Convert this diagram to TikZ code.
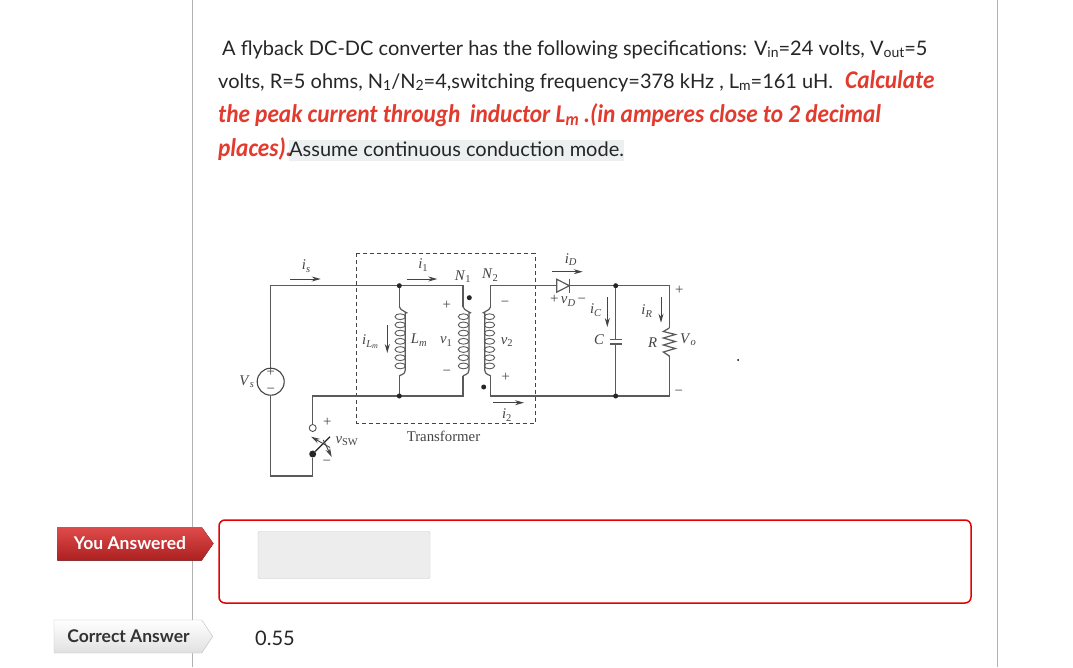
\documentclass[tikz,border=0pt]{standalone}
\usepackage{fontspec}
\usepackage{xcolor}
\usetikzlibrary{calc,arrows.meta}
\setmainfont{Lato}
\newfontfamily\redfont[FakeStretch=0.913]{Carlito}
\newfontfamily\circfont{Liberation Serif}
\definecolor{redtext}{HTML}{E23B2E}
\definecolor{wiregray}{HTML}{5A5A5A}
\definecolor{labgray}{HTML}{444444}
\definecolor{hilite}{HTML}{ECF0F1}
\definecolor{badgetop}{HTML}{E04B4B}
\definecolor{badgebot}{HTML}{AC2020}
\newcommand{\ssub}[1]{\raisebox{-0.28ex}{\fontsize{14}{14}\selectfont #1}}
\newcommand{\csub}[2]{\textit{#1}\raisebox{-0.35ex}{\fontsize{10.5}{10.5}\selectfont\textit{#2}}}
\newcommand{\nsub}[2]{\textit{#1}\raisebox{-0.35ex}{\fontsize{10.5}{10.5}\selectfont #2}}
\tikzset{
  wire/.style={wiregray, line width=1.2pt},
  curarrow/.style={-{Stealth[length=9pt,width=5pt]}, labgray, line width=0.9pt},
  lab/.style={inner sep=0pt, text=labgray, font=\circfont\fontsize{14.8}{16}\selectfont},
  qline/.style={anchor=base west, inner sep=0pt, text=black!85, font=\fontsize{20}{24}\selectfont},
  redline/.style={anchor=base west, inner sep=0pt, text=redtext, font=\redfont\bfseries\itshape\fontsize{25.5}{30}\selectfont},
  jdot/.style={circle, fill=black!85, inner sep=0pt, minimum size=5pt},
  badgetxt/.style={inner sep=0pt, font=\bfseries\fontsize{17.5}{20}\selectfont}
}
\begin{document}
\begin{tikzpicture}[x=1pt, y=-1pt]
  \useasboundingbox (0,0) rectangle (1073,667);
  \fill[white] (0,0) rectangle (1073,667);

  % page rules
  \draw[black!30] (192.5,0) -- (192.5,667);
  \draw[black!30] (997.5,0) -- (997.5,667);

  % question text
  \node[qline] (line1) at (222,55) {A flyback DC-DC converter has the following specifications: V\ssub{in}=24 volts, V\ssub{out}=5};
  \node[qline] (line2) at (218,88) {volts, R=5 ohms, N\ssub{1}/N\ssub{2}=4,switching frequency=378 kHz , L\ssub{m}=161 uH.};
  \node[redline] (calc) at (845,88) {Calculate};
  \node[redline] (line3) at (218,122) {the peak current through\, inductor L\raisebox{-0.3ex}{\fontsize{18}{18}\selectfont m} .(in amperes close to 2 decimal};
  \fill[hilite] (289,140) rectangle (624,160.5);
  \node[redline] (line4) at (218,156) {places).};
  \node[qline] (assume) at (289,156) {Assume continuous conduction mode.};

  % transformer box
  \draw[dash pattern=on 4pt off 3pt, labgray, line width=0.9pt] (356.7,253.3) rectangle (535,423.3);

  % wiring points
  \foreach \n/\x/\y in {tl/270.7/285.7, bl/270.7/476, br/312.7/476, sw/312.7/396, ta/399.3/285.7, ba/399.3/396,
      pt/463/285.7, pb/463/396, st/490.7/285.7, sb/490.7/396, an/556.7/285.7, ca/569.3/285.7,
      ct/615.7/285.7, cb/615.7/396, cu/615.7/339.3, cl/615.7/344, rt/669.3/285.7, rb/669.3/396,
      ru/669.3/328, rl/669.3/357, lt/399.3/306.7, lb/399.3/376, pu/463/306.7, pl/463/376,
      su/490.7/306.7, sl/490.7/376}
    \coordinate (\n) at (\x,\y);

  % source and switch terminals
  \node[circle, draw=labgray, line width=1.1pt, minimum size=27pt, inner sep=0pt] (vs) at (270.7,381.7) {};
  \node[circle, draw=labgray, fill=white, line width=0.8pt, minimum size=7pt, inner sep=0pt] (swo) at (312.7,428) {};
  \node[circle, fill=black!85, inner sep=0pt, minimum size=7pt] (swc) at (312.7,454) {};

  % wires
  \draw[wire] (vs) -- (tl) -- (pt) -- (pu);
  \draw[wire] (vs) -- (bl) -- (br) -- (swc);
  \draw[wire] (swo) -- (sw) -- (pb) -- (pl);
  \draw[wire] (ta) -- (lt);
  \draw[wire] (lb) -- (ba);
  \draw[wire] (su) -- (st) -- (an);
  \draw[wire] (sl) -- (sb) -- (rb) -- (rl);
  \draw[wire] (ca) -- (rt) -- (ru);
  \draw[wire] (ct) -- (cu);
  \draw[wire] (cl) -- (cb);

  % windings
  \foreach \a/\b/\s/\c in {lt/lb/1/400.2, pu/pl/1/463.5, su/sl/-1/489.5} {
    \draw[wire] (\a) .. controls +(0,4) and +(6*\s,1) .. ++(6*\s,6) -- ($(\b)+(6*\s,-6)$) .. controls +(0,5) and +(0,-1) .. (\b);
    \foreach \k in {0,...,6}
      \draw[wiregray, line width=0.9pt] (\c,316.7+8.2*\k) ellipse (5.2 and 2.9);
  }

  % capacitor
  \draw[wire] ($(cu)+(-6,0)$) -- ($(cu)+(6,0)$);
  \draw[wire] ($(cl)+(-6,0)$) -- ($(cl)+(6,0)$);

  % diode
  \draw[wire, fill=white] (an) ++(0,-6.5) -- ++(0,13) -- (ca) -- cycle;
  \draw[wire] ($(ca)+(0,-7)$) -- ($(ca)+(0,7)$);

  % resistor
  \draw[wire] (ru) -- ++(-6,3.5) -- ++(12,3) -- ++(-12,3.5) -- ++(12,3.5) -- ++(-12,3.5) -- ++(12,3.5) -- ++(-12,3.5) -- ++(6,4) -- (rl);

  % junction dots
  \foreach \n in {ta,ba,ct,cb}
    \node[jdot] (d\n) at (\n) {};
  \node[jdot] (dotp) at (469.3,297.7) {};
  \node[jdot] (dots) at (483.7,387) {};

  % switch blades
  \coordinate (bla) at (330,436.7);
  \draw[wire, black!85] (swc) -- (bla);
  \coordinate (aa) at (330,447.5);
  \coordinate (ab) at (311,436.7);
  \coordinate (ac) at (323.3,440);
  \coordinate (ad) at (331.7,457);
  \draw[curarrow] (aa) -- (ab);
  \draw[curarrow] (ac) -- (ad);

  % current arrows
  \foreach \n/\xa/\ya/\xb/\yb in {is/290/279/320.7/279, ione/406.7/279/437.3/279, ilm/387.3/325/387.3/353,
      id/552.3/271.7/582.7/271.7, itwo/493/402.7/524/402.7, ic/607.3/297/607.3/327, ir/661/297/661/322.7} {
    \coordinate (\n a) at (\xa,\ya);
    \coordinate (\n b) at (\xb,\yb);
    \draw[curarrow] (\n a) -- (\n b);
  }

  % circuit labels
  \node[lab] (lis) at (306,266) {\csub{i}{s}};
  \node[lab] (lione) at (423,265) {\nsub{i}{1}};
  \node[lab] (lilm) at (370,342) {\textit{i}\raisebox{-0.35ex}{\fontsize{10.5}{10.5}\selectfont\textit{L}\raisebox{-0.3ex}{\fontsize{8}{8}\selectfont\textit{m}}}};
  \node[lab] (llm) at (418.7,340) {\csub{L}{m}};
  \node[lab] (lvone) at (446,341.7) {\nsub{v}{1}};
  \node[lab] (lvtwo) at (506.7,342) {\nsub{v}{2}};
  \node[lab] (lnone) at (462.7,276.7) {\nsub{N}{1}};
  \node[lab] (lntwo) at (490,275) {\nsub{N}{2}};
  \node[lab] (litwo) at (506.7,415) {\nsub{i}{2}};
  \node[lab] (ltr) at (443.5,436) {Transformer};
  \node[lab] (lid) at (570.7,259.3) {\csub{i}{D}};
  \node[lab] (lvd) at (568,301) {+\,\csub{v}{D}\,\textminus};
  \node[lab] (lic) at (595.7,310) {\csub{i}{C}};
  \node[lab] (lc) at (599,340) {\textit{C}};
  \node[lab] (lir) at (646.7,311) {\csub{i}{R}};
  \node[lab] (lr) at (652.7,343) {\textit{R}};
  \node[lab] (lvo) at (688,340) {\csub{V}{o}};
  \node[lab] (lvs) at (246.7,381.7) {\csub{V}{s}};
  \node[lab] (lvsw) at (346.7,441) {\nsub{v}{SW}};

  % polarity marks
  \foreach \n/\x/\y/\t in {pa/446.7/305/+, pb/446.7/373/\textminus, pc/505/304/\textminus, pd/505.7/377.7/+,
      pe/679.3/290.7/+, pf/678.7/393/\textminus, pg/270.7/372/+, ph/270.7/391/\textminus,
      pi/327.3/422/+, pj/326.7/463/\textminus}
    \node[lab] (m\n) at (\x,\y) {\t};
  \fill[black] (738,360) circle (1);

  % answer box
  \draw[red!90!black, line width=1.5pt, rounded corners=6pt] (219,520) rectangle (971,603);
  \draw[black!22, fill=black!7, rounded corners=2pt] (258,531.5) rectangle (430,578.5);

  % badges
  \fill[top color=badgetop, bottom color=badgebot] (57.3,527) -- (201.7,527) -- (213.5,543.5) -- (201.7,560.5) -- (57.3,560.5) -- cycle;
  \node[badgetxt, text=white] (youans) at (130,543) {You Answered};
  \draw[black!25, top color=white, bottom color=black!12] (54,620) -- (201.7,620) -- (212.7,636.5) -- (201.7,653) -- (54,653) -- cycle;
  \node[badgetxt, text=black!80] (corans) at (128.5,636) {Correct Answer};
  \node[qline] (value) at (255,645) {0.55};
\end{tikzpicture}
\end{document}
